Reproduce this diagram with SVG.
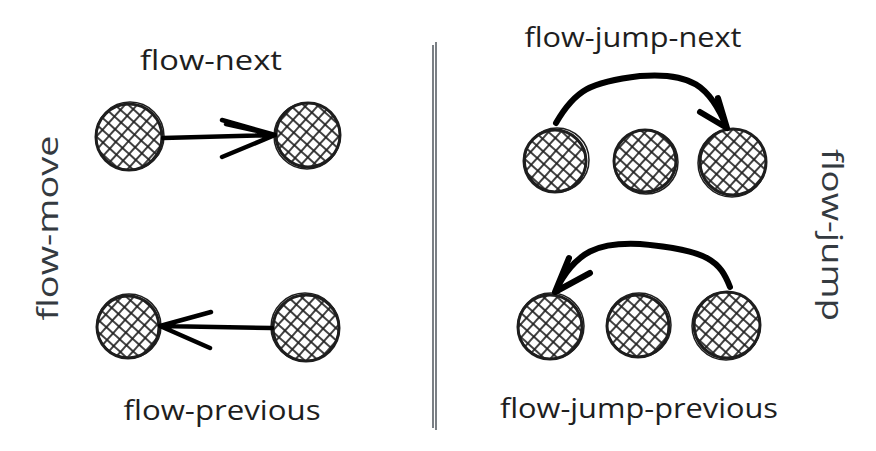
<svg xmlns="http://www.w3.org/2000/svg" width="876" height="451" viewBox="0 0 876 451">
<style>
.lbl{font-family:"Open Sans","Liberation Sans",sans-serif;font-size:27px;fill:#1e1e1e;}
.side{font-family:"Open Sans","Liberation Sans",sans-serif;font-size:30px;fill:#343a40;}
.node circle.fill{fill:url(#hatch);}
.node .o1{fill:none;stroke:#1e1e1e;stroke-width:3;}
.node .o2{fill:none;stroke:#1e1e1e;stroke-width:1.5;}
.conn path{fill:none;stroke:#000;stroke-width:4.5;stroke-linecap:round;stroke-linejoin:round;}
.conn path.j{stroke-width:6;}
.div line{stroke:#6c7278;stroke-width:1.8;}
</style>
<defs>
<pattern id="hatch" patternUnits="userSpaceOnUse" width="9" height="9" patternTransform="rotate(42)">
<rect width="9" height="9" fill="#fff"/>
<line x1="0" y1="1" x2="9" y2="1" stroke="#1e1e1e" stroke-width="1.7"/>
<line x1="1" y1="0" x2="1" y2="9" stroke="#1e1e1e" stroke-width="1.7"/>
</pattern>
</defs>
<rect width="876" height="451" fill="#fff"/>
<g class="div"><line x1="433" y1="45" x2="433" y2="428"/><line x1="436" y1="42" x2="436" y2="430"/></g>
<g id="n1" class="node"><circle class="fill" cx="129" cy="137" r="33"/><circle class="o1" cx="129" cy="137" r="33"/><circle class="o2" cx="130" cy="136" r="34"/></g>
<g id="n2" class="node"><circle class="fill" cx="308" cy="135" r="32"/><circle class="o1" cx="308" cy="135" r="32"/><circle class="o2" cx="307" cy="136" r="33"/></g>
<g id="n3" class="node"><circle class="fill" cx="128" cy="327" r="31"/><circle class="o1" cx="128" cy="327" r="31"/><circle class="o2" cx="129" cy="326" r="32"/></g>
<g id="n4" class="node"><circle class="fill" cx="306" cy="328" r="33"/><circle class="o1" cx="306" cy="328" r="33"/><circle class="o2" cx="305" cy="327" r="34"/></g>
<g id="n5" class="node"><circle class="fill" cx="555" cy="161" r="31"/><circle class="o1" cx="555" cy="161" r="31"/><circle class="o2" cx="557" cy="160" r="32"/></g>
<g id="n6" class="node"><circle class="fill" cx="645" cy="161" r="31"/><circle class="o1" cx="645" cy="161" r="31"/><circle class="o2" cx="646" cy="162" r="32"/></g>
<g id="n7" class="node"><circle class="fill" cx="733" cy="162" r="33"/><circle class="o1" cx="733" cy="162" r="33"/><circle class="o2" cx="732" cy="163" r="34"/></g>
<g id="n8" class="node"><circle class="fill" cx="550" cy="327" r="32"/><circle class="o1" cx="550" cy="327" r="32"/><circle class="o2" cx="551" cy="326" r="33"/></g>
<g id="n9" class="node"><circle class="fill" cx="638" cy="326" r="31"/><circle class="o1" cx="638" cy="326" r="31"/><circle class="o2" cx="639" cy="325" r="32"/></g>
<g id="n10" class="node"><circle class="fill" cx="727" cy="325" r="33"/><circle class="o1" cx="727" cy="325" r="33"/><circle class="o2" cx="726" cy="326" r="34"/></g>
<g class="conn">
<path d="M163 138 L275 135 M222 120 L275 135 L222 157 M226 124 L275 135"/>
<path d="M272 328 L160 326 M211 312 L160 326 L210 348"/>
<path class="j" d="M556 123 C575 90 590 82 640 76 C690 72 710 85 727 128 M700 112 L727 128 L718 98"/>
<path class="j" d="M730 287 C720 262 710 250 640 244 C600 242 575 250 555 292 M569 258 L555 292 L590 273"/>
</g>
<g id="t1"><text class="lbl" x="211" y="70" text-anchor="middle" textLength="142" lengthAdjust="spacingAndGlyphs">flow-next</text></g>
<g id="t2"><text class="lbl" x="222" y="420" text-anchor="middle" textLength="197" lengthAdjust="spacingAndGlyphs">flow-previous</text></g>
<g id="t3"><text class="lbl" x="633" y="47" text-anchor="middle" textLength="217" lengthAdjust="spacingAndGlyphs">flow-jump-next</text></g>
<g id="t4"><text class="lbl" x="639" y="418" text-anchor="middle" textLength="278" lengthAdjust="spacingAndGlyphs">flow-jump-previous</text></g>
<g id="t5"><text class="side" transform="translate(58 228) rotate(-90)" text-anchor="middle" textLength="185" lengthAdjust="spacingAndGlyphs">flow-move</text></g>
<g id="t6"><text class="side" transform="translate(822 235) rotate(90)" text-anchor="middle" textLength="172" lengthAdjust="spacingAndGlyphs">flow-jump</text></g>
</svg>
